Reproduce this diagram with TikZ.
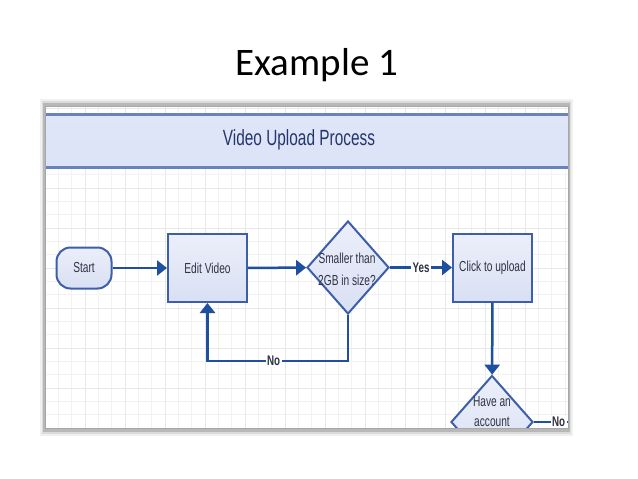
\documentclass[tikz,border=0pt]{standalone}
\usepackage{fontspec}
\setmainfont{Carlito}
\newfontfamily\narrowfont[FakeStretch=0.7]{Liberation Sans}
\usetikzlibrary{arrows.meta,shapes.geometric}
\definecolor{lineblue}{HTML}{1F4F9F}
\definecolor{nodeborder}{HTML}{3D5EA9}
\definecolor{nodetop}{HTML}{ECEFFA}
\definecolor{nodebot}{HTML}{D9E0F4}
\definecolor{hdrline}{HTML}{6B82C0}
\definecolor{txt}{HTML}{2E3242}
\definecolor{titletxt}{HTML}{24366A}
\definecolor{hdrtop}{HTML}{E0E6F8}
\definecolor{hdrmid}{HTML}{F3F5FD}
\definecolor{hdrbot}{HTML}{DCE3F7}
\begin{document}
\begin{tikzpicture}[x=1pt,y=-1pt,
  box/.style={draw=nodeborder, line width=2pt, top color=nodetop, bottom color=nodebot,
    font=\narrowfont\fontsize{14.5}{16}\selectfont, text=txt},
  startbox/.style={box, rounded corners=14pt, minimum width=55pt, minimum height=41pt, inner sep=0pt},
  procbox/.style={box, minimum width=79pt, minimum height=68pt, inner sep=0pt},
  decbox/.style={box, shape=diamond, inner sep=0pt, minimum width=82pt, minimum height=93pt},
  dectext/.style={font=\narrowfont\fontsize{14.5}{16}\selectfont, text=txt, align=center, inner sep=0pt},
  conn/.style={draw=lineblue, line width=2.5pt},
  arr/.style={conn, -{Triangle[length=10pt,width=15pt]}},
  lbl/.style={fill=white, inner sep=1.5pt, font=\narrowfont\bfseries\fontsize{14}{16}\selectfont, text=txt},
  gridminor/.style={draw=black!5, line width=0.5pt},
  gridmajor/.style={draw=black!9, line width=0.6pt}
]
\fill[white] (0,0) rectangle (638,479);
\useasboundingbox (0,0) rectangle (638,479);

% title
\node[font=\fontsize{39}{44}\selectfont, anchor=base, inner sep=0pt] (title) at (317,75) {Example 1};

% screenshot shadow
\fill[black!6] (40,99) rectangle (573,436);
\fill[black!14] (42,101) rectangle (571,434);
\fill[black!28] (43,103) rectangle (570,432);
\fill[white] (45,106) rectangle (568,428);

\begin{scope}
\clip (45,106) rectangle (568,428);
% grid
\foreach \i in {0,...,40} {
  \draw[gridminor] ({45+13.333*\i},106) -- ++(0,322);
}
\foreach \i in {0,...,25} {
  \draw[gridminor] (45,{108+13.333*\i}) -- ++(523,0);
}
\foreach \i in {0,...,12} {
  \draw[gridmajor] ({45+40*\i},106) -- ++(0,322);
}
\foreach \i in {0,...,8} {
  \draw[gridmajor] (45,{108+40*\i}) -- ++(523,0);
}

% header band
\shade[top color=hdrtop, middle color=hdrmid, bottom color=hdrbot] (45,114) rectangle (568,167);
\draw[hdrline, line width=3pt] (45,114) -- (568,114);
\draw[hdrline, line width=3pt] (45,167) -- (568,167);
\node[font=\narrowfont\fontsize{22}{24}\selectfont, text=titletxt] (hdr) at (299,140) {Video Upload Process};

% nodes
\node[startbox] (start) at (84,268) {Start};
\node[procbox] (edit) at (207.5,268) {Edit Video};
\node[decbox] (dec1) at (348,267.5) {};
\node[dectext] (dec1t) at (347,269.5) {Smaller than\\[6pt]2GB in size?};
\node[procbox] (upload) at (492.5,267.5) {Click to upload};
\node[decbox] (dec2) at (492,422) {};
\node[dectext] (dec2t) at (492,412) {Have an\\[4pt]account};
\coordinate (nob) at (348,361);
\coordinate (exit) at (590,422);

% connectors
\draw[arr] (start) -- (edit);
\draw[arr] (edit) -- (dec1);
\draw[arr] (dec1) -- node[lbl] (yes) {Yes} (upload);
\draw[arr] (upload) -- (dec2);
\draw[arr] (dec1.south) -- (dec1.south |- nob) -- node[lbl, pos=0.53] (no1) {No} (edit.south |- nob) -- (edit.south);
\draw[arr] (dec2.east) -- node[lbl, pos=0.44] (no2) {No} (exit);
\end{scope}

\draw[black!35, line width=0.6pt] (45,106) rectangle (568,428);
\end{tikzpicture}
\end{document}
